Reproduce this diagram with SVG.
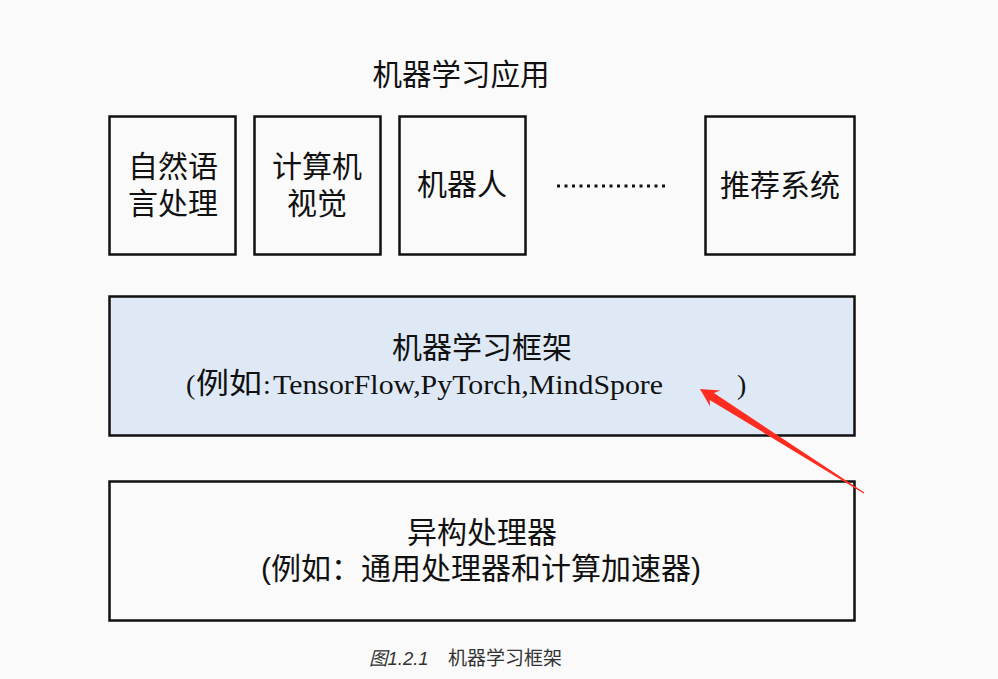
<svg xmlns="http://www.w3.org/2000/svg" width="998" height="679" viewBox="0 0 998 679">
<style>
.box{fill:#fafafa;stroke:#111;stroke-width:2.5}
.fw{fill:#dee9f5;stroke:#111;stroke-width:2.5}
.cjk{font-family:"Liberation Sans","Noto Sans CJK SC",sans-serif;fill:#111;text-anchor:middle}
.ser{font-family:"Liberation Serif","Noto Sans CJK SC",serif;fill:#111}
</style>
<rect width="998" height="679" fill="#fafafa"/>
<text class="cjk" x="461" y="85" font-size="29.5">机器学习应用</text>
<g id="node-nlp">
<rect class="box" x="109.5" y="116.5" width="126" height="138"/>
<text class="cjk" x="173" y="177" font-size="30">自然语</text>
<text class="cjk" x="173" y="214" font-size="30">言处理</text>
</g>
<g id="node-cv">
<rect class="box" x="254.5" y="116.5" width="126" height="138"/>
<text class="cjk" x="317" y="177" font-size="30">计算机</text>
<text class="cjk" x="317" y="214" font-size="30">视觉</text>
</g>
<g id="node-robot">
<rect class="box" x="399.5" y="116.5" width="126" height="138"/>
<text class="cjk" x="462" y="195" font-size="30">机器人</text>
</g>
<g id="node-more">
<line x1="557" y1="186" x2="669" y2="186" stroke="#111" stroke-width="3" stroke-dasharray="3 4.5"/>
</g>
<g id="node-rec">
<rect class="box" x="705.5" y="116.5" width="149" height="138"/>
<text class="cjk" x="780" y="196" font-size="30">推荐系统</text>
</g>
<g id="node-framework">
<rect class="fw" x="109.5" y="296.5" width="745" height="139"/>
<text class="cjk" x="482" y="358" font-size="30">机器学习框架</text>
<text class="ser" x="186" y="394" font-size="28">(</text>
<text class="ser" x="196" y="394" font-size="29" textLength="66" lengthAdjust="spacingAndGlyphs">例如</text>
<text class="ser" x="263" y="394" font-size="28">:</text>
<text class="ser" x="273" y="394" font-size="28" textLength="390" lengthAdjust="spacingAndGlyphs">TensorFlow,PyTorch,MindSpore</text>
<text class="ser" x="737" y="394" font-size="28">)</text>
</g>
<g id="node-hetero">
<rect class="box" x="109.5" y="481.5" width="745" height="139"/>
<text class="cjk" x="482" y="543" font-size="30">异构处理器</text>
<text class="cjk" x="481" y="579" font-size="30">(例如：通用处理器和计算加速器)</text>
</g>
<g id="connectors">
<polygon points="700,389 720.3,390.6 713.9,393.1 864.3,492.6 863.7,493.4 709.7,399.9 710.1,406.6" fill="#ff2d20"/>
</g>
<text x="369" y="665" font-size="18.5" fill="#333" font-family="Liberation Sans,Noto Sans CJK SC,sans-serif" font-style="italic">图1.2.1</text>
<text x="448" y="665" font-size="19" fill="#333" font-family="Liberation Sans,Noto Sans CJK SC,sans-serif">机器学习框架</text>
</svg>
